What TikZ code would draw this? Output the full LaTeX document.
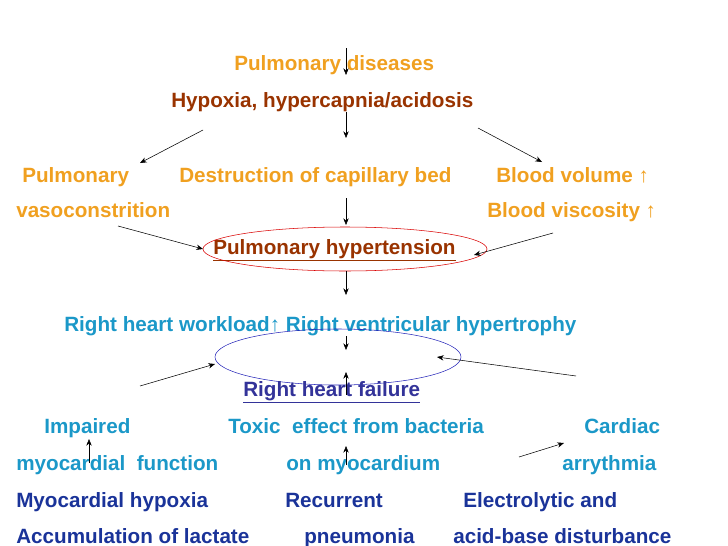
\documentclass[tikz,border=0pt]{standalone}
\usepackage{fontspec}
\setmainfont{Liberation Sans}
\usetikzlibrary{arrows.meta}
\begin{document}
\begin{tikzpicture}[x=0.75pt,y=-0.75pt,
  t/.style={anchor=base west,inner sep=0pt,yshift=-4pt,font=\fontsize{15.5}{17}\selectfont\bfseries},
  arr/.style={-{Stealth[length=5pt,width=4pt]},thin}]
\definecolor{org}{HTML}{F0A020}
\definecolor{brn}{HTML}{993300}
\definecolor{cyn}{HTML}{1B98C8}
\definecolor{nav}{HTML}{333399}
\definecolor{dbl}{HTML}{1A3399}
\useasboundingbox (0,0) rectangle (728,546);
\node[t,text=org] (pd) at (234,65) {Pulmonary diseases};
\node[t,text=brn] (hy) at (171,102) {Hypoxia, hypercapnia/acidosis};
\node[t,text=org] (pu) at (22,177) {Pulmonary};
\node[t,text=org] (de) at (179,177) {Destruction of capillary bed};
\node[t,text=org] (bv) at (496,177) {Blood volume ↑};
\node[t,text=org] (va) at (16,212) {vasoconstrition};
\node[t,text=org] (bs) at (487,212) {Blood viscosity ↑};
\node[t,text=brn] (ph) at (213,249) {\underline{Pulmonary hypertension}};
\draw[red!85!black] (345,249) ellipse [x radius=142,y radius=22];
\node[t,text=cyn] (rw) at (64,326) {Right heart workload↑ Right ventricular hypertrophy};
\draw[nav!70!blue] (338,357) ellipse [x radius=123,y radius=28];
\node[t,text=nav] (rf) at (243,391) {\underline{Right heart failure}};
\node[t,text=cyn] (im) at (44,428) {Impaired};
\node[t,text=cyn] (tx) at (228,428) {Toxic\ \ effect from bacteria};
\node[t,text=cyn] (ca) at (584,428) {Cardiac};
\node[t,text=cyn] (my) at (16,465) {myocardial\ \ function};
\node[t,text=cyn] (om) at (286,465) {on myocardium};
\node[t,text=cyn] (ar) at (562,465) {arrythmia};
\node[t,text=dbl] (mh) at (16,502) {Myocardial hypoxia};
\node[t,text=dbl] (re) at (285,502) {Recurrent};
\node[t,text=dbl] (el) at (463,502) {Electrolytic and};
\node[t,text=dbl] (ac) at (16,538) {Accumulation of lactate};
\node[t,text=dbl] (pn) at (304,538) {pneumonia};
\node[t,text=dbl] (ab) at (453,538) {acid-base disturbance};
\foreach \n/\xa/\ya/\xb/\yb in {a1/346/48/346/75, a2/346/112/346/138, a3/203/130/140/163,
  a4/478/128/542/162, a5/346/198/346/225, a6/118/226/203/249, a7/553/233/474/255,
  a8/346/271/346/295, a9/346/336/346/350, a10/140/386/215/364, a11/576/376/437/357,
  a12/346/395/346/372, a13/89/463/89/439, a14/346/465/346/446, a15/519/457/564/443}{
  \coordinate (\n s) at (\xa,\ya); \coordinate (\n e) at (\xb,\yb);
  \draw[arr] (\n s) -- (\n e);}
\end{tikzpicture}
\end{document}
